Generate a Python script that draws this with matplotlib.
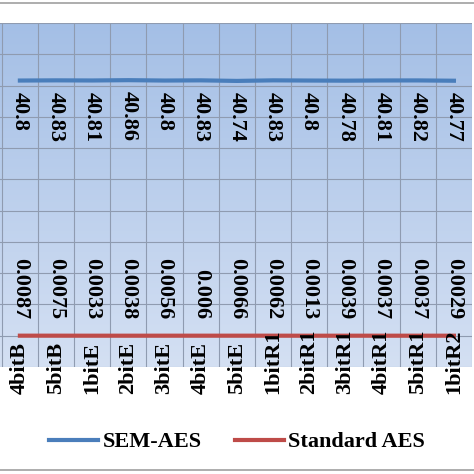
import matplotlib
matplotlib.use("Agg")
import matplotlib.pyplot as plt
import numpy as np
from matplotlib.colors import LinearSegmentedColormap
from matplotlib.lines import Line2D

categories = ["4bitB", "5bitB", "1bitE", "2bitE", "3bitE", "4bitE", "5bitE",
              "1bitR1", "2bitR1", "3bitR1", "4bitR1", "5bitR1", "1bitR2"]
sem_aes = [40.8, 40.83, 40.81, 40.86, 40.8, 40.83, 40.74, 40.83, 40.8, 40.78, 40.81, 40.82, 40.77]
std_aes = [0.0087, 0.0075, 0.0033, 0.0038, 0.0056, 0.006, 0.0066, 0.0062, 0.0013, 0.0039, 0.0037, 0.0037, 0.0029]
sem_labels = ["40.8", "40.83", "40.81", "40.86", "40.8", "40.83", "40.74", "40.83", "40.8", "40.78", "40.81", "40.82", "40.77"]
std_labels = ["0.0087", "0.0075", "0.0033", "0.0038", "0.0056", "0.006", "0.0066", "0.0062", "0.0013", "0.0039", "0.0037", "0.0037", "0.0029"]

fig = plt.figure(figsize=(4.74, 4.74), dpi=100)
W = H = 474.0
ax = fig.add_axes([0, 1 - 367 / H, 472 / W, (367 - 23) / H])
x = np.arange(len(categories))
ax.set_xlim(-0.55, len(categories) - 0.5)
ax.set_ylim(-5, 50)

cmap = LinearSegmentedColormap.from_list("g", ["#d4e0f3", "#a4bfe6"])
grad = np.linspace(0, 1, 256).reshape(-1, 1)
ax.imshow(grad, aspect="auto", cmap=cmap, origin="lower", extent=[0, 1, 0, 1],
          transform=ax.transAxes, zorder=0)

for yv in np.arange(-5, 51, 5):
    ax.axhline(yv, color="#8f9bb0", lw=0.8, zorder=1)
for xv in np.arange(-0.5, len(categories), 1):
    ax.axvline(xv, color="#8f9bb0", lw=0.8, zorder=1)

ax.plot(x, sem_aes, color="#4a7ebb", lw=3, zorder=3)
ax.plot(x, std_aes, color="#be4b48", lw=3, zorder=3)

font = dict(family="Liberation Serif", weight="bold", fontsize=16)
for i in range(len(categories)):
    ax.text(x[i], sem_aes[i] - 1.8, sem_labels[i], rotation=-90, ha="center", va="top", **font, zorder=4)
    ax.text(x[i], 2.6, std_labels[i], rotation=-90, ha="center", va="bottom", **font, zorder=4)
    ax.text(x[i], -9.3, categories[i], rotation=90, ha="center", va="bottom", clip_on=False, **font, zorder=4)

ax.set_xticks([])
ax.set_yticks([])
for s in ax.spines.values():
    s.set_visible(False)

handles = [Line2D([], [], color="#4a7ebb", lw=3), Line2D([], [], color="#be4b48", lw=3)]
fig.legend(handles, ["SEM-AES", "Standard AES"], loc="center", bbox_to_anchor=(0.5, 1 - 442 / H),
           ncol=2, frameon=False, prop=dict(family="Liberation Serif", weight="bold", size=16),
           handlelength=2.2, handletextpad=0.2, columnspacing=1.5)

fig.add_artist(Line2D([0, 1], [1 - 3 / H, 1 - 3 / H], color="#a0a0a0", lw=1.2, transform=fig.transFigure))
fig.add_artist(Line2D([0, 1], [1 - 470 / H, 1 - 470 / H], color="#a0a0a0", lw=1.2, transform=fig.transFigure))

fig.savefig("out.png", dpi=100)
